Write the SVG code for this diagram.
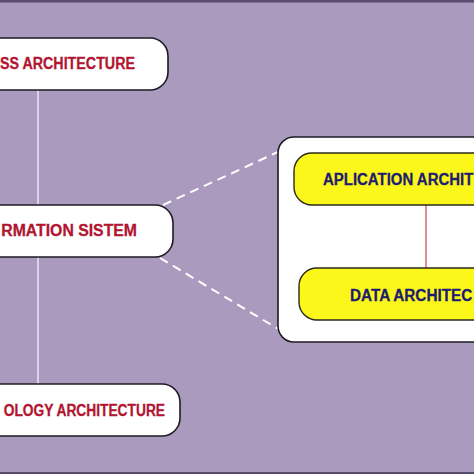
<svg xmlns="http://www.w3.org/2000/svg" width="474" height="474" viewBox="0 0 474 474">
<style>
.wbox{fill:#ffffff;stroke:#1e1a24;stroke-width:1.6}
.ybox{fill:#fbf71a;stroke:#2a2a1a;stroke-width:1.4}
.rt{font-family:"Liberation Sans",Arial,sans-serif;font-weight:bold;font-size:17px;fill:#b11530;stroke:#b11530;stroke-width:0.3}
.bt{font-family:"Liberation Sans",Arial,sans-serif;font-weight:bold;font-size:17px;fill:#1e1c6e;stroke:#1e1c6e;stroke-width:0.3}
</style>
<rect x="0" y="0" width="474" height="474" fill="#a99abe"/>
<rect x="0" y="0" width="474" height="2.5" fill="#5a4c6c"/>
<rect x="0" y="472" width="474" height="2" fill="#5a4c6c"/>
<g id="connectors">
<line x1="38" y1="90" x2="38" y2="205" stroke="#ece6f2" stroke-width="1.5"/>
<line x1="38" y1="257" x2="38" y2="384" stroke="#ece6f2" stroke-width="1.5"/>
<line x1="163" y1="205" x2="280" y2="151" stroke="#ffffff" stroke-width="2" stroke-dasharray="9 6"/>
<line x1="160" y1="258" x2="280" y2="330" stroke="#ffffff" stroke-width="2" stroke-dasharray="9 6"/>
</g>
<g id="business">
<rect class="wbox" x="-20" y="38" width="188" height="52" rx="18"/>
<text class="rt" text-anchor="end" transform="translate(135,69) scale(0.84,1)">SS ARCHITECTURE</text>
</g>
<g id="information">
<rect class="wbox" x="-20" y="205" width="193" height="52" rx="18"/>
<text class="rt" text-anchor="end" transform="translate(137,236) scale(0.93,1)">RMATION SISTEM</text>
</g>
<g id="technology">
<rect class="wbox" x="-20" y="384" width="200" height="52" rx="18"/>
<text class="rt" text-anchor="end" transform="translate(165,416) scale(0.81,1)">OLOGY ARCHITECTURE</text>
</g>
<g id="container">
<rect class="wbox" x="278" y="137" width="220" height="205" rx="16"/>
</g>
<g id="inner-connector">
<line x1="426" y1="205" x2="426" y2="268" stroke="#d0404a" stroke-width="1.2"/>
</g>
<g id="application">
<rect class="ybox" x="294" y="153" width="200" height="52" rx="18"/>
<text class="bt" transform="translate(323,185) scale(0.88,1)">APLICATION ARCHIT</text>
</g>
<g id="data">
<rect class="ybox" x="299" y="268" width="200" height="52" rx="18"/>
<text class="bt" transform="translate(350,301) scale(0.9,1)">DATA ARCHITEC</text>
</g>
</svg>
